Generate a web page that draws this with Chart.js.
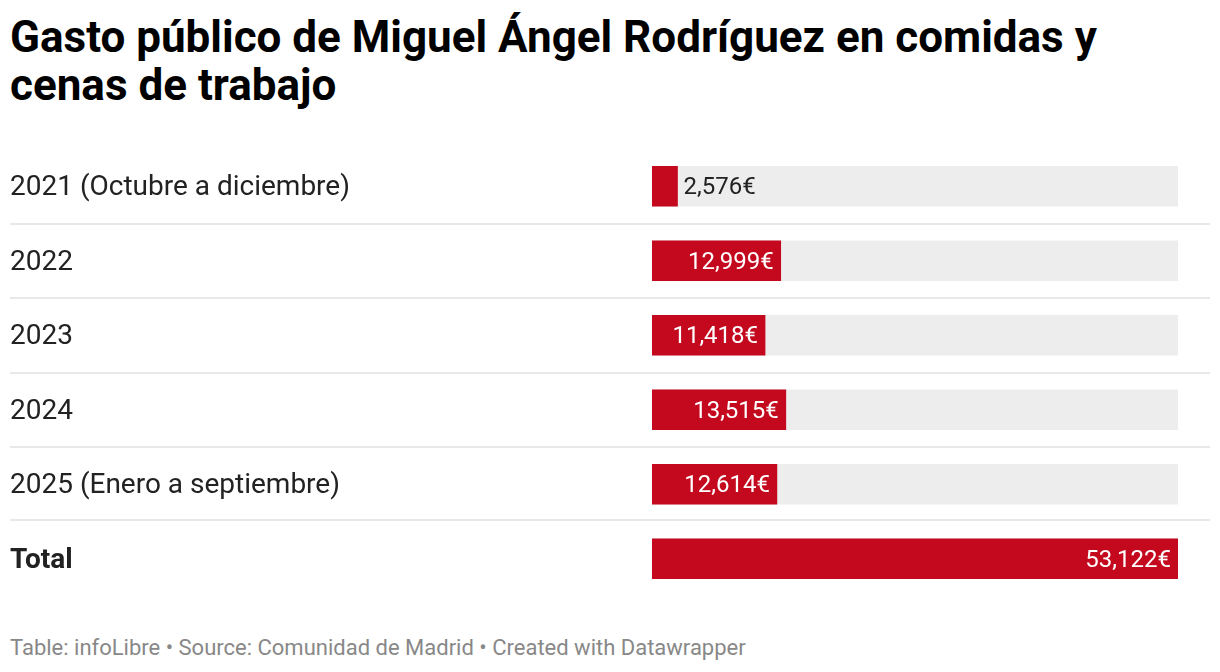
<!DOCTYPE html>
<html>
<head>
<meta charset="utf-8">
<script src="https://cdn.jsdelivr.net/npm/chart.js@4"></script>
<style>
    body { margin: 0; background: #fff; font-family: Roboto, sans-serif; }
    #title { position: absolute; left: 10px; top: 13px; font-size: 44px; line-height: 48px; font-weight: 700; color: #000; }
    #wrap { position: absolute; left: 0; top: 130px; width: 1220px; height: 490px; }
    #footer { position: absolute; left: 10px; top: 635px; font-size: 22px; color: #888; }
</style>
</head>
<body>
<div id="title">Gasto público de Miguel Ángel Rodríguez en comidas y<br>cenas de trabajo</div>
<div id="wrap"><canvas id="chart"></canvas></div>
<div id="footer">Table: infoLibre • Source: Comunidad de Madrid • Created with Datawrapper</div>
<script>
const rowLabels = ["2021 (Octubre a diciembre)", "2022", "2023", "2024", "2025 (Enero a septiembre)", "Total"];
const gasto = [2576, 12999, 11418, 13515, 12614, 53122];
const maxGasto = 53122;
const fondo = rowLabels.map(() => maxGasto);

function euros(v) {
    return String(v).replace(/\B(?=(\d{3})+(?!\d))/g, ",") + "€";
}

// thin grey lines between the rows
const rowLines = {
    id: 'rowLines',
    beforeDatasetsDraw(chart) {
        const ctx = chart.ctx;
        const y = chart.scales.y;
        ctx.save();
        ctx.strokeStyle = '#e8e8e8';
        ctx.lineWidth = 2;
        for (let i = 0; i < rowLabels.length - 1; i++) {
            const py = Math.round((y.getPixelForTick(i) + y.getPixelForTick(i + 1)) / 2) - (i === rowLabels.length - 2 ? 2 : 0);
            ctx.beginPath();
            ctx.moveTo(10, py);
            ctx.lineTo(1210, py);
            ctx.stroke();
        }
        ctx.restore();
    }
};

// value text inside the bar, or after it when the bar is too short
const valueLabels = {
    id: 'valueLabels',
    afterDatasetsDraw(chart) {
        const ctx = chart.ctx;
        const meta = chart.getDatasetMeta(1);
        ctx.save();
        ctx.font = '24px Roboto';
        ctx.textBaseline = 'middle';
        meta.data.forEach((bar, i) => {
            const txt = euros(gasto[i]);
            const w = ctx.measureText(txt).width;
            if (bar.x - bar.base > w + 14) {
                ctx.fillStyle = '#fff';
                ctx.textAlign = 'right';
                ctx.fillText(txt, bar.x - 7, bar.y + 2);
            } else {
                ctx.fillStyle = '#222';
                ctx.textAlign = 'left';
                ctx.fillText(txt, bar.x + 6, bar.y + 2);
            }
        });
        ctx.restore();
    }
};

new Chart(document.getElementById('chart'), {
    type: 'bar',
    data: {
        labels: rowLabels,
        datasets: [{
            data: fondo,
            backgroundColor: '#ededed',
            barThickness: 40,
            grouped: false,
            order: 1
        }, {
            data: gasto,
            backgroundColor: '#c4091e',
            barThickness: 40,
            grouped: false,
            order: 0
        }]
    },
    options: {
        indexAxis: 'y',
        responsive: true,
        maintainAspectRatio: false,
        animation: false,
        layout: {
            padding: { left: 10, right: 42, top: 19, bottom: 24 }
        },
        plugins: {
            legend: { display: false },
            tooltip: { enabled: false }
        },
        scales: {
            x: {
                display: false,
                min: 0,
                max: maxGasto
            },
            y: {
                grid: { display: false },
                border: { display: false },
                afterFit: function (scale) {
                    scale.width = 642;
                },
                ticks: {
                    crossAlign: 'far',
                    padding: 0,
                    labelOffset: 2,
                    color: '#222',
                    font: function (c) {
                        return {
                            family: 'Roboto',
                            size: 28,
                            weight: c.index === rowLabels.length - 1 ? 'bold' : 'normal'
                        };
                    }
                }
            }
        }
    },
    plugins: [rowLines, valueLabels]
});
</script>
</body>
</html>
